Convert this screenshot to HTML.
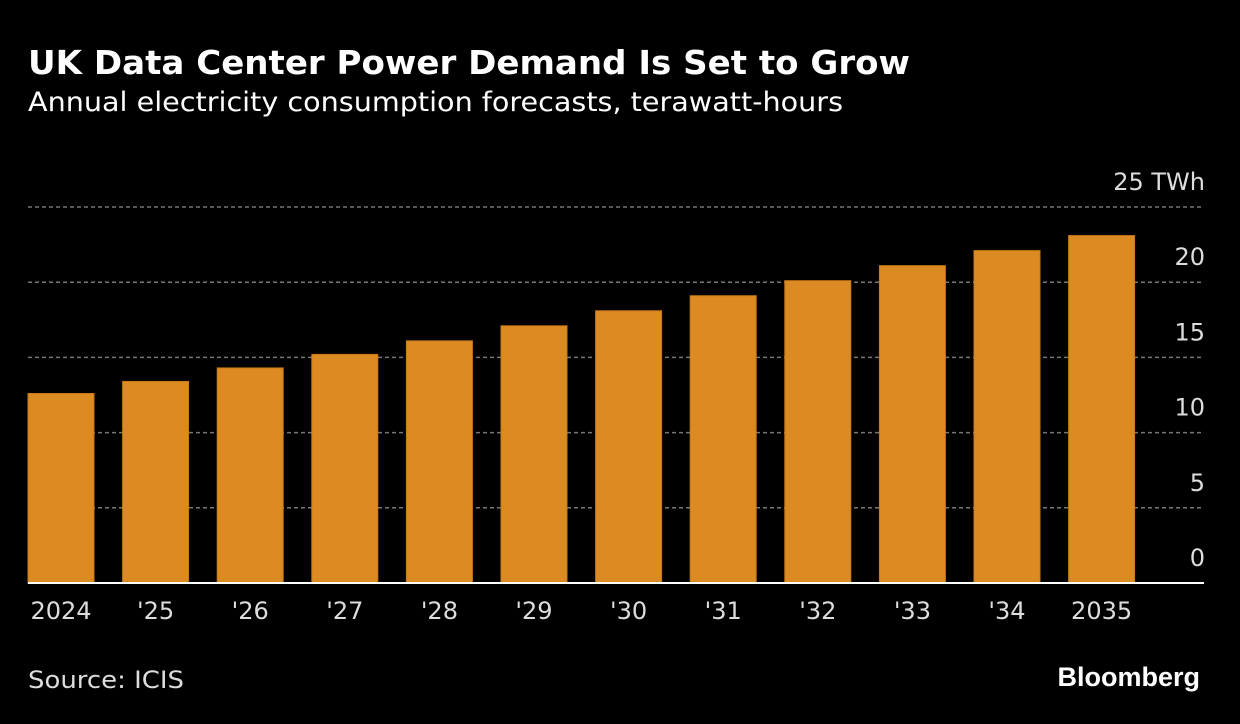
<!DOCTYPE html>
<html><head><meta charset="utf-8"><style>
body{margin:0;background:#000;width:1240px;height:720px;overflow:hidden;font-family:"DejaVu Sans","Liberation Sans",sans-serif;}
</style></head><body>
<svg width="1240" height="720" xmlns="http://www.w3.org/2000/svg">
<rect width="1240" height="720" fill="#000"/>
<text x="28" y="74" fill="#fff" font-size="33" font-weight="bold" textLength="882" lengthAdjust="spacingAndGlyphs" font-family="DejaVu Sans, sans-serif">UK Data Center Power Demand Is Set to Grow</text>
<text x="28" y="111" fill="#fff" font-size="27" textLength="815" lengthAdjust="spacingAndGlyphs" font-family="DejaVu Sans, sans-serif">Annual electricity consumption forecasts, terawatt-hours</text>
<g id="grid"></g><g id="bars"></g><g id="xlabels"></g><g id="ylabels"></g>
<text x="28" y="688" fill="#ddd" font-size="24" textLength="156" lengthAdjust="spacingAndGlyphs">Source: ICIS</text>
<text x="1200" y="686" fill="#fff" font-size="27" font-weight="bold" text-anchor="end" font-family="Liberation Sans, sans-serif">Bloomberg</text>
</svg>
<script>
const categories=["2024","'25","'26","'27","'28","'29","'30","'31","'32","'33","'34","2035"];
const values=[12.6,13.4,14.3,15.2,16.1,17.1,18.1,19.1,20.1,21.1,22.1,23.1];
const ticks=[0,5,10,15,20,25];
const tickLabels=["0","5","10","15","20","25 TWh"];
const NS="http://www.w3.org/2000/svg";
const y=v=>583-v*15.04;
const x=i=>28+i*94.6;
function mk(t,a,p){const e=document.createElementNS(NS,t);for(const k in a)e.setAttribute(k,a[k]);p.appendChild(e);return e;}
const grid=document.getElementById('grid'),bars=document.getElementById('bars'),xl=document.getElementById('xlabels'),yl=document.getElementById('ylabels');
ticks.forEach((t,i)=>{
 if(t>0){const l=mk('line',{x1:28,x2:1204,y1:y(t),y2:y(t),stroke:'#777','stroke-width':1.5,'stroke-dasharray':'4 3'},grid);
 
 }
 const tx=mk('text',{x:1205,y:y(t)-17,fill:'#ddd','font-size':24,'text-anchor':'end'},yl);tx.textContent=tickLabels[i];
 
 
});
values.forEach((v,i)=>{
 const r=mk('rect',{x:x(i),y:y(v),width:66,height:y(0)-y(v),fill:'#dc8a22',stroke:'#c97a18','stroke-width':1},bars);
 
 
 const tx=mk('text',{x:x(i)+33,y:619,fill:'#ddd','font-size':24,'text-anchor':'middle'},xl);tx.textContent=categories[i];
 
 
});
const b=mk('line',{x1:28,x2:1204,y1:583,y2:583,stroke:'#fff','stroke-width':2},grid.parentNode);


</script>
</body></html>
